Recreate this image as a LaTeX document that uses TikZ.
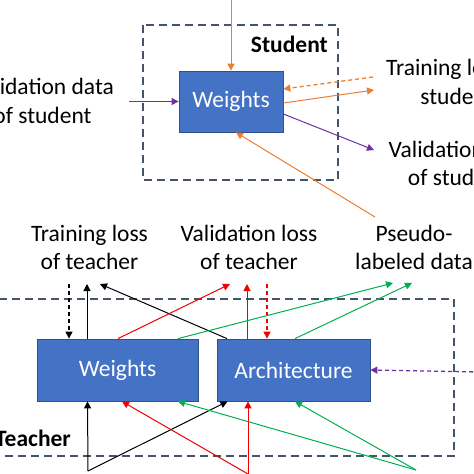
\documentclass[tikz,border=0pt]{standalone}
\usepackage{fontspec}
\setmainfont{Carlito}
\usetikzlibrary{arrows.meta}
\definecolor{boxfill}{HTML}{4472C4}
\definecolor{boxline}{HTML}{2F528F}
\definecolor{frame}{HTML}{44546A}
\definecolor{orng}{HTML}{ED7D31}
\definecolor{purp}{HTML}{7030A0}
\definecolor{rd}{HTML}{F00000}
\definecolor{grn}{HTML}{00B050}
\tikzset{
  blk/.style={draw=boxline, fill=boxfill, line width=0.8pt, text=white, inner sep=0pt, font=\fontsize{23.5}{28.7}\selectfont},
  lbl/.style={align=center, inner sep=0pt, font=\fontsize{23.5}{28.7}\selectfont},
  ttl/.style={inner sep=0pt, font=\fontsize{23.5}{28.7}\selectfont\bfseries},
  frm/.style={draw=frame, line width=2pt, dash pattern=on 8pt off 5pt},
  arr/.style={line width=1pt, -{Triangle[length=7pt,width=7pt]}},
  dsh/.style={dash pattern=on 4pt off 3pt, line width=1.3pt}
}
\begin{document}
\begin{tikzpicture}[x=1pt,y=-1pt]
\path[use as bounding box, clip] (0,0) rectangle (474,474);
\fill[white] (0,0) rectangle (474,474);
% frames
\draw[frm] (143,25) rectangle (338,180);
\draw[frm] (-20,299) rectangle (454,456);
\node[ttl, anchor=east] (stt) at (328,44) {Student};
\node[ttl, anchor=east] (ttt) at (71,438) {Teacher};
% boxes
\node[blk, minimum width=104pt, minimum height=61pt] (sw) at (231,101.5) {Weights};
\node[blk, minimum width=161pt, minimum height=62pt] (tw) at (117.5,370) {Weights};
\node[blk, minimum width=153pt, minimum height=62pt] (ta) at (293.5,370) {Architecture};
% labels
\node[lbl] (vds) at (42.5,101) {Validation data\\of student};
\node[lbl] (tls) at (457,82) {Training loss of\\student};
\node[lbl] (vls) at (457,163.5) {Validation loss\\of student};
\node[lbl] (tlt) at (89.5,247.5) {Training loss\\of teacher};
\node[lbl] (vlt) at (249,247.5) {Validation loss\\of teacher};
\node[lbl] (pld) at (414,247.5) {Pseudo-\\labeled data};
% endpoints
\coordinate (s1) at (231,-3);
\coordinate (s2) at (129,101.5);
\coordinate (s3) at (373,77);
\coordinate (s4) at (374,90);
\coordinate (s5) at (374,150);
\coordinate (s6) at (375,217);
\coordinate (t1) at (69,284);
\coordinate (t2) at (87,284);
\coordinate (t3) at (100,284);
\coordinate (t4) at (230,284);
\coordinate (t5) at (247,284);
\coordinate (t6) at (267,284);
\coordinate (t7) at (393,283);
\coordinate (t8) at (412,283);
\coordinate (t9) at (480,372);
\coordinate (bk) at (88,471);
\coordinate (br) at (248,474);
\coordinate (bg) at (416,470);
% student connectors
\draw[arr, orng] (s1) -- (sw.north);
\draw[arr, purp] (s2) -- (sw.west);
\draw[arr, orng, dsh] (s3) -- ([yshift=12.5pt]sw.east);
\draw[arr, orng] ([yshift=-1.5pt]sw.east) -- (s4);
\draw[arr, purp] ([yshift=-12.5pt]sw.east) -- (s5);
\draw[arr, orng] (s6) -- ([xshift=5pt]sw.south);
% teacher top connectors
\draw[arr, black, dsh] (t1) -- ([xshift=-48.5pt]tw.north);
\draw[arr, black] ([xshift=-30.5pt]tw.north) -- (t2);
\draw[arr, black] ([xshift=-66.5pt]ta.north) -- (t3);
\draw[arr, rd] ([xshift=0.5pt]tw.north) -- (t4);
\draw[arr, rd] ([xshift=-46.5pt]ta.north) -- (t5);
\draw[arr, rd, dsh] (t6) -- ([xshift=-26.5pt]ta.north);
\draw[arr, grn] ([xshift=60.5pt]tw.north) -- (t7);
\draw[arr, grn] ([xshift=1.5pt]ta.north) -- (t8);
\draw[arr, purp, dsh] (t9) -- (ta.east);
% teacher bottom connectors
\draw[arr, black] (bk) -- ([xshift=-30pt]tw.south);
\draw[arr, black] (bk) -- ([xshift=-66pt]ta.south);
\draw[arr, rd] (br) -- ([xshift=-45.5pt]ta.south);
\draw[arr, rd] (br) -- ([xshift=4.5pt]tw.south);
\draw[arr, grn] (bg) -- ([xshift=60.5pt]tw.south);
\draw[arr, grn] (bg) -- ([xshift=1.5pt]ta.south);
\end{tikzpicture}
\end{document}
